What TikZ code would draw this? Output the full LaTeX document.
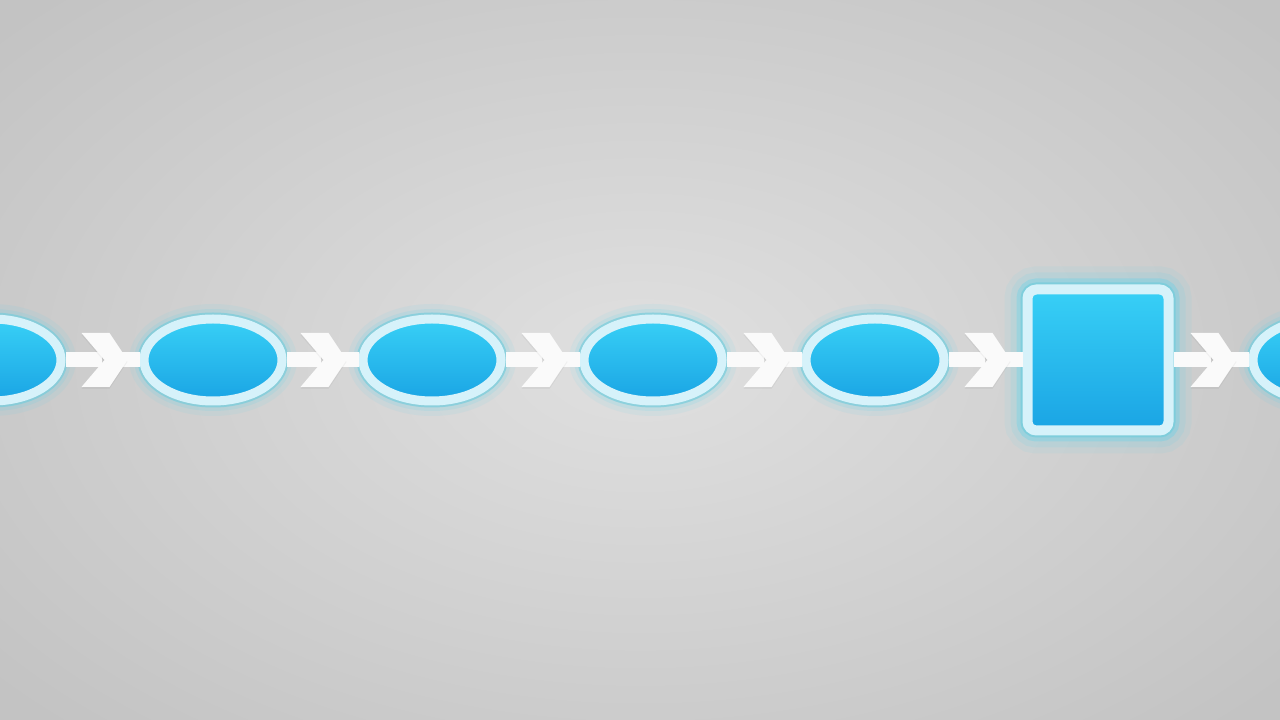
\documentclass[tikz,border=0pt]{standalone}
\usetikzlibrary{shapes.geometric}
\usetikzlibrary{calc}

\definecolor{bgin}{RGB}{224,224,224}
\definecolor{bgout}{RGB}{195,195,195}
\definecolor{ringc}{RGB}{214,242,250}
\definecolor{glowc}{RGB}{70,212,242}
\definecolor{edgec}{RGB}{120,205,220}
\definecolor{bluetop}{RGB}{56,208,246}
\definecolor{bluebot}{RGB}{26,164,228}
\definecolor{chevc}{RGB}{250,250,250}

\tikzset{
  stage/.style={ellipse, minimum width=138pt, minimum height=82pt, inner sep=0pt,
    draw=ringc, line width=9pt, top color=bluetop, bottom color=bluebot,
    preaction={draw=glowc, line width=30pt, opacity=0.08},
    preaction={draw=glowc, line width=20pt, opacity=0.12},
    preaction={draw=edgec, line width=13pt, opacity=0.7}},
  gate/.style={rectangle, rounded corners=9pt, minimum size=141pt, inner sep=0pt,
    draw=ringc, line width=10pt, top color=bluetop, bottom color=bluebot,
    preaction={draw=glowc, line width=46pt, opacity=0.07},
    preaction={draw=glowc, line width=34pt, opacity=0.10},
    preaction={draw=glowc, line width=22pt, opacity=0.25},
    preaction={draw=edgec, line width=14pt, opacity=0.8}},
  bar/.style={draw=chevc, line width=15pt},
  chev/.style={fill=chevc,
    preaction={fill=black, opacity=0.04, transform canvas={yshift=-2pt}}}
}

\begin{document}
\begin{tikzpicture}[x=1pt,y=1pt]
  \useasboundingbox (0,0) rectangle (1280,720);
  \clip (0,0) rectangle (1280,720);
  \fill[inner color=bgin, outer color=bgout] (-200,-150) rectangle (1480,870);

  % stages along the line
  \foreach \i/\x in {0/-8,1/213,2/432,3/653,4/875,6/1322}
    \node[stage] (s\i) at (\x,360) {};
  \node[gate] (fin) at (1098,360) {};

  % connectors with chevrons
  \foreach \a/\b in {s0/s1,s1/s2,s2/s3,s3/s4,s4/fin,fin/s6} {
    \draw[bar] (\a.east) -- ($(\b.west)+(-38,0)$);
    \draw[bar] ($(\b.west)+(-22,0)$) -- (\b.west);
    \fill[chev] ($(\b.west)+(-58,27)$) -- ++(28,0) -- ++(18,-27) -- ++(-18,-27)
      -- ++(-28,0) -- ++(23,27) -- cycle;
  }
\end{tikzpicture}
\end{document}
